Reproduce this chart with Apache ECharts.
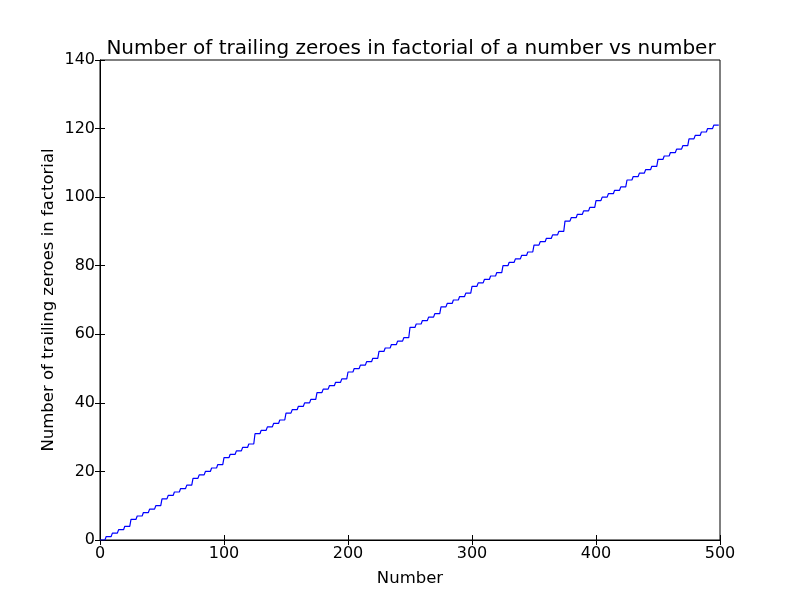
<!DOCTYPE html>
<html>
<head>
<meta charset="utf-8">
<script src="https://cdn.jsdelivr.net/npm/echarts@6/dist/echarts.min.js"></script>
<style>
    html, body { margin: 0; padding: 0; background: #fff; }
    #chart { width: 800px; height: 600px; }
</style>
</head>
<body>
<div id="chart"></div>
<script>
// trailing zero counts, one level per block of five numbers (0-4, 5-9, ... 495-499)
let stepStarts = [];
for (let k = 0; k < 100; k++) stepStarts.push(k * 5);
let stepLevels = [
    0, 1, 2, 3, 4, 6, 7, 8, 9, 10,
    12, 13, 14, 15, 16, 18, 19, 20, 21, 22,
    24, 25, 26, 27, 28, 31, 32, 33, 34, 35,
    37, 38, 39, 40, 41, 43, 44, 45, 46, 47,
    49, 50, 51, 52, 53, 55, 56, 57, 58, 59,
    62, 63, 64, 65, 66, 68, 69, 70, 71, 72,
    74, 75, 76, 77, 78, 80, 81, 82, 83, 84,
    86, 87, 88, 89, 90, 93, 94, 95, 96, 97,
    99, 100, 101, 102, 103, 105, 106, 107, 108, 109,
    111, 112, 113, 114, 115, 117, 118, 119, 120, 121
];
let xTicks = [0, 100, 200, 300, 400, 500];
let yTicks = [0, 20, 40, 60, 80, 100, 120, 140];

let points = [];
stepStarts.forEach(function (x, i) {
    points.push([x, stepLevels[i]]);
    points.push([x + 4, stepLevels[i]]);
});

let font = 'DejaVu Sans';
let chart = echarts.init(document.getElementById('chart'));
let tick = function () {
    return {
        show: true,
        inside: true,
        length: 5,
        lineStyle: { color: '#000', width: 1 }
    };
};
// bare axis carrying only inward ticks
let tickAxis = function (pos, max, interval) {
    return {
        type: 'value', min: 0, max: max, interval: interval, position: pos,
        axisLine: { show: false }, axisTick: tick(),
        axisLabel: { show: false }, splitLine: { show: false }
    };
};
let option = {
    backgroundColor: '#fff',
    animation: false,
    title: {
        text: 'Number of trailing zeroes in factorial of a number vs number',
        left: 406,
        textAlign: 'center',
        top: 34,
        textStyle: { fontFamily: font, fontSize: 20, fontWeight: 'normal', color: '#000' }
    },
    grid: {
        left: 100, right: 80, top: 60, bottom: 60,
        show: true, borderColor: '#000', borderWidth: 1, backgroundColor: 'transparent'
    },
    xAxis: [{
        type: 'value', min: 0, max: 500, interval: 100,
        name: 'Number', nameLocation: 'middle', nameGap: 30,
        nameTextStyle: { fontFamily: font, fontSize: 16.5, color: '#000' },
        axisLine: { show: true, lineStyle: { color: '#000' } },
        axisTick: tick(),
        splitLine: { show: false },
        axisLabel: {
            fontFamily: font, fontSize: 16, color: '#000', margin: 6,
            formatter: function (v) { return xTicks.indexOf(v) >= 0 ? String(v) : ''; }
        }
    }, tickAxis('top', 500, 100)],
    yAxis: [{
        type: 'value', min: 0, max: 140, interval: 20, position: 'left',
        name: 'Number of trailing zeroes in factorial', nameLocation: 'middle', nameGap: 43,
        nameMoveOverlap: false,
        nameTextStyle: { fontFamily: font, fontSize: 16.5, color: '#000' },
        axisLine: { show: true, lineStyle: { color: '#000' } },
        axisTick: tick(),
        splitLine: { show: false },
        axisLabel: {
            fontFamily: font, fontSize: 16, color: '#000', margin: 5,
            formatter: function (v) { return yTicks.indexOf(v) >= 0 ? String(v) : ''; }
        }
    }, tickAxis('right', 140, 20)],
    series: [{
        type: 'line',
        data: points,
        showSymbol: false,
        symbol: 'none',
        lineStyle: { color: '#0000ff', width: 1.2 },
        xAxisIndex: 0,
        yAxisIndex: 0
    }]
};
chart.setOption(option);
</script>
</body>
</html>
